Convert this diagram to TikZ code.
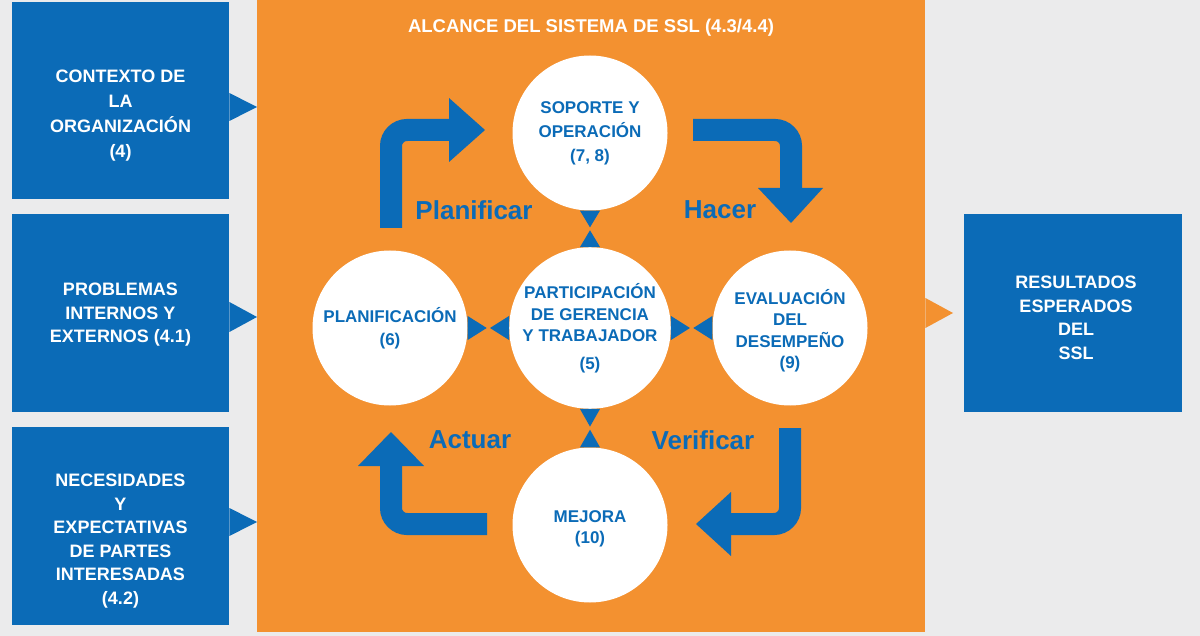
\documentclass[tikz,border=0pt]{standalone}
\usepackage{fontspec}
\setmainfont{Liberation Sans}
\usetikzlibrary{positioning, calc}
\definecolor{accent}{HTML}{0B6BB7}
\definecolor{panel}{HTML}{F39130}
\definecolor{paper}{HTML}{EBEBEC}

\begin{document}
\begin{tikzpicture}[x=1pt, y=-1pt,
    box/.style={fill=accent, inner sep=0pt, anchor=north west},
    boxtext/.style={text=white, font=\fontsize{18}{23.5}\selectfont\bfseries, align=center, inner sep=0pt},
    phase/.style={circle, fill=white, minimum size=155pt, inner sep=0pt, text=accent, font=\fontsize{17}{21.5}\selectfont\bfseries, align=center},
    pdcalabel/.style={text=accent, font=\fontsize{26}{30}\selectfont\bfseries, inner sep=0pt},
    shaft/.style={draw=accent, line width=22pt, rounded corners=16pt},
    head/.style={fill=accent}]
        \fill[paper] (0,0) rectangle (1200,636);

        % inputs, scope and outputs
        \node[box, minimum width=217pt, minimum height=197pt] (contexto)    at (12,2)   {};
        \node[box, minimum width=217pt, minimum height=198pt] (problemas)   at (12,214) {};
        \node[box, minimum width=217pt, minimum height=198pt] (necesidades) at (12,427) {};
        \node[box, minimum width=218pt, minimum height=198pt] (resultados)  at (964,214){};
        \node[fill=panel, inner sep=0pt, anchor=north west, minimum width=668pt, minimum height=632pt] (alcance) at (257,0) {};

        \node[boxtext, font=\fontsize{18}{25}\selectfont\bfseries] (contexto-t) at (120.5,116) {CONTEXTO DE\\LA\\ORGANIZACIÓN\\(4)};
        \node[boxtext] (problemas-t)   at (120.5,315) {PROBLEMAS\\INTERNOS Y\\EXTERNOS (4.1)};
        \node[boxtext] (necesidades-t) at (120.5,541) {NECESIDADES\\Y\\EXPECTATIVAS\\DE PARTES\\INTERESADAS\\(4.2)};
        \node[boxtext] (resultados-t)  at (1076,318)  {RESULTADOS\\ESPERADOS\\DEL\\SSL};
        \node[text=white, font=\fontsize{18.5}{22}\selectfont\bfseries, inner sep=0pt] (titulo) at (591,28) {ALCANCE DEL SISTEMA DE SSL (4.3/4.4)};

        \fill[accent] (contexto.east |- 0,93)    -- (alcance.west |- 0,107) -- (contexto.east |- 0,121)    -- cycle;
        \fill[accent] (problemas.east |- 0,302)  -- (alcance.west |- 0,317) -- (problemas.east |- 0,332)  -- cycle;
        \fill[accent] (necesidades.east |- 0,508)-- (alcance.west |- 0,522) -- (necesidades.east |- 0,536)-- cycle;
        \fill[panel]  (alcance.east |- 0,298)    -- (953,313)               -- (alcance.east |- 0,328)    -- cycle;

        % the five clauses
        \node[phase, font=\fontsize{17}{24}\selectfont\bfseries] (soporte) at (590,133) {SOPORTE Y\\OPERACIÓN\\(7, 8)};
        \node[phase] (planif)  at (390,328) {PLANIFICACIÓN\\[2pt](6)};
        \node[phase] (partic)  at (590,328) {PARTICIPACIÓN\\DE GERENCIA\\Y TRABAJADOR\\[6pt](5)};
        \node[phase] (evalua)  at (790,328) {\rule{0pt}{21pt}EVALUACIÓN\\DEL\\DESEMPEÑO\\(9)};
        \node[phase] (mejora)  at (590,525) {\rule{0pt}{20pt}MEJORA\\(10)};

        \foreach \a/\b in {soporte/partic, partic/mejora} {
            \fill[accent] ($(\a.south)+(-10,0)$) -- ($(\a.south)+(10,0)$) -- ($(\a.south)!0.46!(\b.north)$) -- cycle;
            \fill[accent] ($(\b.north)+(-10,0)$) -- ($(\b.north)+(10,0)$) -- ($(\b.north)!0.46!(\a.south)$) -- cycle;
        }
        \foreach \a/\b in {planif/partic, partic/evalua} {
            \fill[accent] ($(\a.east)+(0,-12)$) -- ($(\a.east)+(0,12)$) -- ($(\a.east)!0.46!(\b.west)$) -- cycle;
            \fill[accent] ($(\b.west)+(0,-12)$) -- ($(\b.west)+(0,12)$) -- ($(\b.west)!0.46!(\a.east)$) -- cycle;
        }

        % PHVA arrows
        \coordinate (plan-a) at (391,228);
        \coordinate (plan-b) at (451,130);
        \draw[shaft] (plan-a) |- (plan-b);
        \fill[head] (449,98) -- (485,130) -- (449,162) -- cycle;

        \coordinate (hacer-a) at (693,130);
        \coordinate (hacer-b) at (791,190);
        \draw[shaft] (hacer-a) -| (hacer-b);
        \fill[head] (758,188) -- (823,188) -- (791,223) -- cycle;

        \coordinate (verif-a) at (790,428);
        \coordinate (verif-b) at (729,524);
        \draw[shaft] (verif-a) |- (verif-b);
        \fill[head] (731,492) -- (696,524) -- (731,556) -- cycle;

        \coordinate (actuar-a) at (487,524);
        \coordinate (actuar-b) at (391,464);
        \draw[shaft] (actuar-a) -| (actuar-b);
        \fill[head] (358,466) -- (391,432) -- (424,466) -- cycle;

        \node[pdcalabel] (planificar) at (474,210) {Planificar};
        \node[pdcalabel] (hacer)      at (720,210) {Hacer};
        \node[pdcalabel] (actuar)     at (470,440) {Actuar};
        \node[pdcalabel] (verificar)  at (703,440) {Verificar};
      \end{tikzpicture}
\end{document}
